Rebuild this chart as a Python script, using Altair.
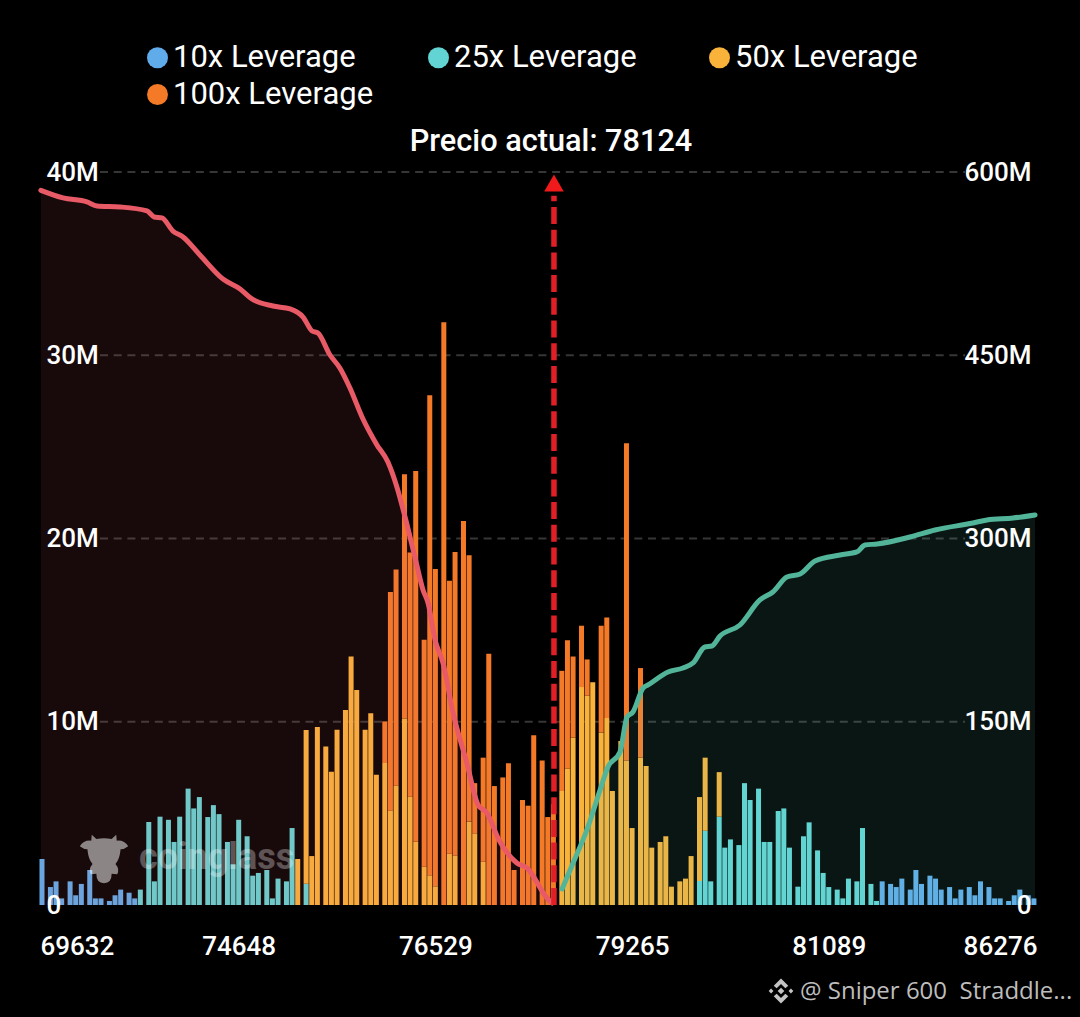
import json
import altair as alt
import numpy as np
import pandas as pd

SERIES = ["10x Leverage", "25x Leverage", "50x Leverage", "100x Leverage"]

# tops of each coloured part of the bars (millions), one entry per price bucket
blue_top = ([2.51, .98, 1.29, .36, 1.29, .53, 1.15, 1.91, .36, .36, .22, .53, .84, .67, .36]
            + [0] * 113
            + [1.29, 1.15, .98, 1.44, .84, 1.91, 1.15, 1.6, 1.44, .84, .98, .36, .84, .98, .53, 1.29,
               .98, .36, .36, .22, .53, .84, .53, .36])
teal_top = ([0] * 15
            + [.84, 4.53, 1.29, 4.82, 4.65, 3.44, 4.82, 6.35, 5.27, 5.89, 4.8, 5.45, 4.96, 3.44, 2.22,
               4.65, 3.75, 1.6, 1.75, 1.91, .36, 1.44, 1.29, 4.2]
            + [0, 1.16] + [0] * 59
            + [1.31, 4.05, 1.29, 4.82, 3.13, 3.58, 3.27, 6.65, 5.73, 6.35, 3.44, 3.44, 5.13, 5.27, 3.13,
               1.0, 3.75, 4.51, 2.98, 1.75, .98, .84, .36, 1.44, 1.29, 4.2, 1.15, .22]
            + [0] * 24)
yellow_top = ([0] * 39
              + [2.51, 9.55, 2.67, 9.71, 8.65, 7.27, 9.56, 10.64, 13.56, 11.73, 9.56, 10.47, 7.11, 7.75,
                 5.15, 6.51, 10.18, 5.91, 3.45, 2.09, 1.62, 1.02]
              + [0, 2.8, 2.69, 0, 4.55, 3.91, 2.36] + [0] * 11
              + [6.22, 7.44, 9.13, 11.89, 11.42, 12.16, 9.42, 10.2, 6.22, 8.95, 7.89, 4.2, 8.04, 7.58,
                 3.13, 3.44, 3.75, 1.0, 1.29, 1.44, 2.67]
              + [5.89, 8.04, 0, 7.25] + [0] * 48)
orange_top = ([0] * 52
              + [10.02, 17.08, 18.31, 23.51, 19.24, 23.68, 14.47, 27.82, 18.33, 31.8, 17.69, 19.26, 20.95,
                 19.09, 6.65, 8.04, 13.71, 6.49, 6.96, 7.73, 1.91, 5.73, 5.42, 9.27, 7.89, 4.8, 5.5]
              + [12.78, 14.45, 13.56, 15.24, 13.4, 0, 15.24, 15.69, 0, 0, 25.2, 0, 12.93]
              + [0] * 60)

# cumulative liquidation curves: slot along the price axis, value (millions)
short_x = [-.4, 7.5, 16, 19.6, 27.8, 37.4, 39.9, 42.7, 46.6, 50.2, 56.2, 64.4, 70.5, 74.7, 82.2, 88.3, 92.9,
           96.1, 98.2, 102.5, 106, 109.6, 113.9, 119.2, 123.1, 126.3, 129.2, 132.7, 135.6, 137.4, 139.9,
           142.7, 146.3, 151.2, 155.2, 158.4, 162.3, 169, 172.6, 179.7, 181.5]
short_v = [585, 578.8, 575.5, 572.2, 571.4, 568.1, 563.2, 562.4, 551.7, 546.8, 532.1, 512.4, 504.3, 496.1,
           490.3, 487.9, 481.3, 469.9, 468.2, 450.2, 439.6, 423.2, 399.5, 376.6, 362.6, 342.2, 317.6, 284.9,
           257.9, 247.2, 216.9, 198.1, 157.2, 116.2, 81.9, 75.3, 54.8, 34.4, 30.3, 5.7, 1.6]
long_x = [185.1, 189, 193.9, 198.6, 201.4, 205.7, 208.2, 210.3, 213.9, 215.7, 222.8, 228.1, 231.7, 235.9,
          238.4, 241.3, 248.4, 255.5, 260.1, 265.1, 269.8, 275.1, 284, 290, 292.9, 297.2, 308.9, 317.8,
          331.3, 336.3, 345.6, 353.4]
long_v = [13.1, 34.4, 61.4, 94.1, 113, 125.2, 153.9, 158, 177.6, 180.1, 190.7, 194, 198.1, 211.2, 212, 220.2,
          229.2, 249.7, 256.2, 268.5, 271, 281.6, 286.5, 289, 294.7, 295.5, 301.2, 307, 312.7, 315.2, 316.8, 319.3]

x_domain = [-0.71, 354.1]
tick_index = [30, 60, 90, 120]
tick_labels = ["69632", "74648", "76529", "79265", "81089", "86276"]
left_ticks = [0, 10, 20, 30, 40]
right_ticks = [0, 150, 300, 450, 600]
price_label = "Precio actual: 78124"
price_slot = 182.2
watermark = "coinglass"
credit = "@ Sniper 600\u00a0\u00a0Straddle..."

FONT = "Roboto"
WHITE = "#ffffff"


def slot(i):
    return int(np.round(0.184 + i * 2.3359))


rows = []
tops = [blue_top, teal_top, yellow_top, orange_top]
for i in range(len(blue_top)):
    below = 0.0
    for k, name in enumerate(SERIES):
        t = tops[k][i]
        if t > 0:
            rows.append({"x": slot(i), "value": round(t - below, 3), "series": name, "order": k})
            below = t
bars_df = pd.DataFrame(rows)

# first and last labels sit flush with the ends of the axis
tick_values = [x_domain[0]] + [slot(i) for i in tick_index] + [x_domain[1]]
label_map = {str(v): t for v, t in zip(tick_values, tick_labels)}
label_expr = json.dumps(label_map) + "[datum.value]"

XS = alt.Scale(domain=x_domain, nice=False, zero=False, padding=0)
YL = alt.Scale(domain=[0, 40], nice=False)
YR = alt.Scale(domain=[0, 600], nice=False)
BAR_COLORS = ["#60acea", "#63d4d4", "#fab33a", "#f57a28"]
XAXIS = alt.Axis(
    values=tick_values, labelExpr=label_expr, labelFlush=True, domain=False, ticks=False, grid=False,
    labelColor=WHITE, labelFont=FONT, labelFontSize=26, labelFontWeight=500, labelPadding=28,
    labelOverlap=False)


def xenc(field="x"):
    return alt.X(f"{field}:Q", scale=XS, title=None, axis=XAXIS)


grid = alt.Chart(pd.DataFrame({"v": left_ticks[1:]})).mark_rule(
    color="#363636", strokeWidth=2, strokeDash=[8, 5.7]
).encode(
    x=alt.value(60), x2=alt.value(925),
    y=alt.Y("v:Q", scale=YL, axis=None),
)

bars = alt.Chart(bars_df).mark_bar(size=5).encode(
    x=xenc(),
    y=alt.Y("value:Q", stack="zero", scale=YL, title=None, axis=alt.Axis(
        values=left_ticks, orient="left", domain=False, ticks=False, grid=False, labelColor=WHITE,
        labelFont=FONT, labelFontSize=26, labelFontWeight=500, labelAlign="left", labelPadding=-6,
        zindex=2, labelExpr="datum.value == 0 ? '0' : datum.value + 'M'")),
    color=alt.Color("series:N", scale=alt.Scale(domain=SERIES, range=BAR_COLORS),
                    legend=alt.Legend(
        orient="none", legendX=102, legendY=-130, columns=3, gridAlign="all", direction="horizontal", title=None,
        symbolType="circle", symbolSize=440, symbolOpacity=1, symbolStrokeWidth=0,
        labelColor=WHITE, labelFont=FONT, labelFontSize=31, labelLimit=300, labelOffset=0,
        columnPadding=49, rowPadding=5, values=SERIES)),
    order=alt.Order("order:Q"),
)

short_df = pd.DataFrame({"x": short_x, "v": short_v})
long_df = pd.DataFrame({"x": long_x, "v": long_v})


def curve(df, fill, line):
    ey = alt.Y("v:Q", scale=YR, axis=None)
    a = alt.Chart(df).mark_area(color=fill, opacity=0.1, interpolate="monotone").encode(x=xenc(), y=ey)
    l = alt.Chart(df).mark_line(color=line, strokeWidth=5, strokeCap="round", strokeJoin="round",
                                interpolate="monotone").encode(x=xenc(), y=ey)
    return a, l


short_area, short_line = curve(short_df, "#f0606a", "#e85a66")
long_area, long_line = curve(long_df, "#5fd8b8", "#52b59a")

right_axis = alt.Chart(pd.DataFrame({"v": right_ticks})).mark_point(opacity=0).encode(
    y=alt.Y("v:Q", scale=YR, title=None, axis=alt.Axis(
        values=right_ticks, orient="right", domain=False, ticks=False, grid=False, labelColor=WHITE,
        labelFont=FONT, labelFontSize=26, labelFontWeight=500, labelAlign="right", labelPadding=-6,
        zindex=2, labelExpr="datum.value == 0 ? '0' : datum.value + 'M'")),
    x=alt.value(990),
)

price_df = pd.DataFrame({"x": [price_slot], "lo": [0], "hi": [38.7], "tip": [39.4]})
price_line = alt.Chart(price_df).mark_rule(color="#e11f27", strokeWidth=5.5, strokeDash=[17, 5.7]).encode(
    x=xenc(),
    y=alt.Y("lo:Q", scale=YL, axis=None), y2="hi:Q",
)
price_tip = alt.Chart(price_df).mark_point(shape="triangle-up", filled=True, size=380, color="#f01a1c", opacity=1).encode(
    x=xenc(),
    y=alt.Y("tip:Q", scale=YL, axis=None),
)
price_text = alt.Chart(pd.DataFrame({"t": [price_label]})).mark_text(
    color=WHITE, font=FONT, fontSize=30.7, fontWeight=500, align="center", baseline="middle"
).encode(x=alt.value(511), y=alt.value(-30), text="t:N")

wm_text = alt.Chart(pd.DataFrame({"t": [watermark]})).mark_text(
    color=WHITE, opacity=0.3, font=FONT, fontSize=36, fontWeight=700, align="left", baseline="middle"
).encode(x=alt.value(99), y=alt.value(686), text="t:N")
BULL = ("M-0.95,-0.5 Q-0.8,-0.75 -0.5,-0.72 L-0.48,-0.95 L-0.3,-0.78 Q0,-0.85 0.3,-0.78 L0.48,-0.95 L0.5,-0.72 "
        "Q0.8,-0.75 0.95,-0.5 Q0.8,-0.38 0.65,-0.38 Q0.62,0 0.45,0.2 Q0.62,0.4 0.52,0.6 L0.3,0.58 "
        "Q0.3,0.95 0,0.95 Q-0.3,0.95 -0.3,0.58 L-0.52,0.6 Q-0.62,0.4 -0.45,0.2 Q-0.62,0 -0.65,-0.38 "
        "Q-0.8,-0.38 -0.95,-0.5 Z")
wm_bull = alt.Chart(pd.DataFrame({"t": [1]})).mark_point(
    shape=BULL, filled=True, color="#ffffff", opacity=0.5, size=2600
).encode(x=alt.value(64), y=alt.value(687))

BINANCE = ("M0,-0.25 L0.25,0 L0,0.25 L-0.25,0 Z M-0.75,-0.18 L-0.57,0 L-0.75,0.18 L-0.93,0 Z "
           "M0.75,-0.18 L0.93,0 L0.75,0.18 L0.57,0 Z M0,-0.95 L0.55,-0.4 L0.33,-0.2 L0,-0.52 L-0.33,-0.2 L-0.55,-0.4 Z "
           "M0,0.95 L-0.55,0.4 L-0.33,0.2 L0,0.52 L0.33,0.2 L0.55,0.4 Z")
icon = alt.Chart(pd.DataFrame({"t": [1]})).mark_point(
    shape=BINANCE, filled=True, color="#c4c4c4", opacity=1, size=700
).encode(x=alt.value(741), y=alt.value(819))
credit_text = alt.Chart(pd.DataFrame({"t": [credit]})).mark_text(
    color="#bdbdbd", font="Open Sans", fontSize=24, align="left", baseline="middle"
).encode(x=alt.value(760), y=alt.value(820), text="t:N")

chart = alt.layer(
    grid, bars, short_area, long_area, wm_bull, wm_text, short_line, long_line,
    price_line, price_tip, price_text, right_axis, icon, credit_text,
).resolve_scale(y="independent").properties(
    width=997, height=733,
    padding={"left": 32, "top": 164, "right": 35, "bottom": 104},
    autosize=alt.AutoSizeParams(type="none"),
    background="#000000",
).configure_view(stroke=None)

chart.save("out.html", embed_options={"renderer": "svg", "actions": False,
                                      "defaultStyle": "html,body{background:#000}"})
